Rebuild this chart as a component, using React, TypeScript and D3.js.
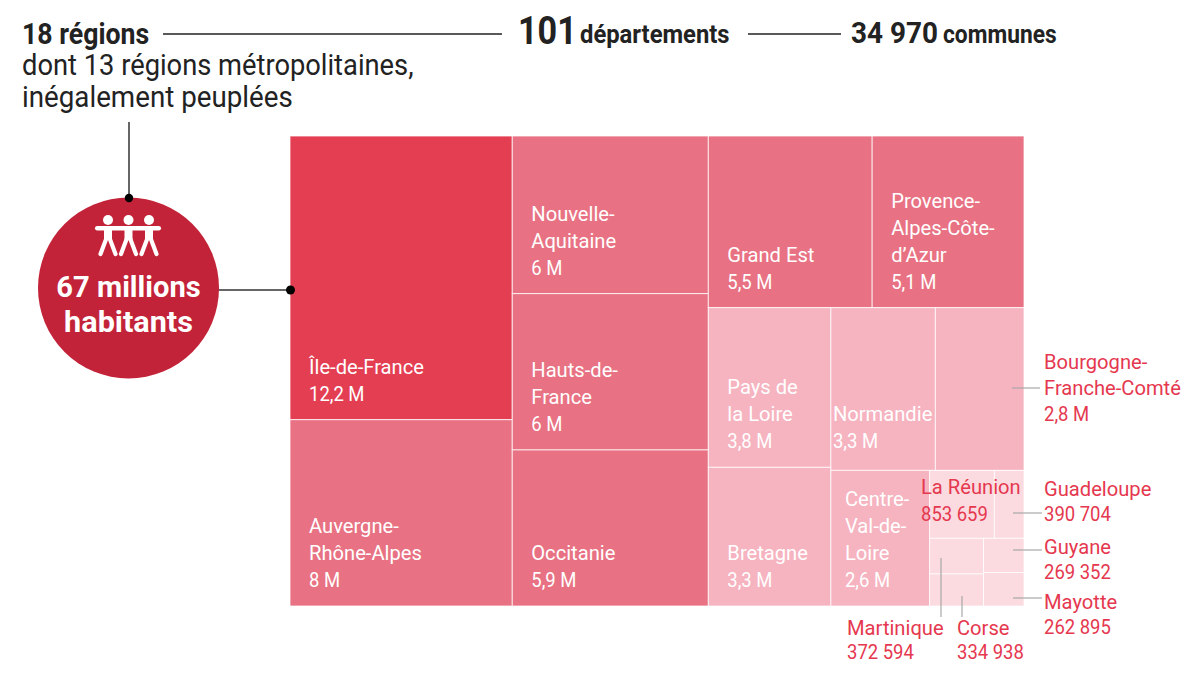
import * as d3 from "d3";

const FONT = "Roboto, sans-serif";
const INK = "#222222";
const RED = "#e5384f";

const regionNames = ["Île-de-France", "Auvergne-Rhône-Alpes", "Nouvelle-Aquitaine", "Hauts-de-France", "Occitanie", "Grand Est", "Provence-Alpes-Côte-d'Azur", "Pays de la Loire", "Bretagne", "Normandie", "Bourgogne-Franche-Comté", "Centre-Val-de-Loire", "La Réunion", "Guadeloupe", "Martinique", "Corse", "Guyane", "Mayotte"];
const regionValues = [12.24, 8.04, 6.0, 5.95, 5.94, 5.46, 5.06, 3.8, 3.3, 3.3, 2.8, 2.6, 0.853659, 0.390704, 0.372594, 0.334938, 0.269352, 0.262895];
const regionTiers = [0, 1, 1, 1, 1, 1, 1, 2, 2, 2, 2, 2, 3, 3, 3, 3, 3, 3];
const tierColors = ["#e43e53", "#e87283", "#f6b3c0", "#fbdae0"];

// white labels sitting inside the cells, last line = population
const insideLabels: [string, string[]][] = [
  ["Île-de-France", ["Île-de-France", "12,2 M"]],
  ["Auvergne-Rhône-Alpes", ["Auvergne-", "Rhône-Alpes", "8 M"]],
  ["Nouvelle-Aquitaine", ["Nouvelle-", "Aquitaine", "6 M"]],
  ["Hauts-de-France", ["Hauts-de-", "France", "6 M"]],
  ["Occitanie", ["Occitanie", "5,9 M"]],
  ["Grand Est", ["Grand Est", "5,5 M"]],
  ["Provence-Alpes-Côte-d'Azur", ["Provence-", "Alpes-Côte-", "d’Azur", "5,1 M"]],
  ["Pays de la Loire", ["Pays de", "la Loire", "3,8 M"]],
  ["Bretagne", ["Bretagne", "3,3 M"]],
  ["Normandie", ["Normandie", "3,3 M"]],
  ["Centre-Val-de-Loire", ["Centre-", "Val-de-", "Loire", "2,6 M"]],
];

// nesting of the treemap, "h" splits left to right and "v" top to bottom
type Split = { dir: "h" | "v"; kids: (Split | string)[] };
const nesting: Split = {
  dir: "h",
  kids: [
    { dir: "v", kids: ["Île-de-France", "Auvergne-Rhône-Alpes"] },
    { dir: "v", kids: ["Nouvelle-Aquitaine", "Hauts-de-France", "Occitanie"] },
    {
      dir: "v",
      kids: [
        { dir: "h", kids: ["Grand Est", "Provence-Alpes-Côte-d'Azur"] },
        {
          dir: "h",
          kids: [
            { dir: "v", kids: ["Pays de la Loire", "Bretagne"] },
            {
              dir: "v",
              kids: [
                { dir: "h", kids: ["Normandie", "Bourgogne-Franche-Comté"] },
                {
                  dir: "h",
                  kids: [
                    "Centre-Val-de-Loire",
                    {
                      dir: "v",
                      kids: [
                        { dir: "h", kids: ["La Réunion", "Guadeloupe"] },
                        {
                          dir: "h",
                          kids: [
                            { dir: "v", kids: ["Martinique", "Corse"] },
                            { dir: "v", kids: ["Guyane", "Mayotte"] },
                          ],
                        },
                      ],
                    },
                  ],
                },
              ],
            },
          ],
        },
      ],
    },
  ],
};

const valueOf = (name: string) => regionValues[regionNames.indexOf(name)];

const root = d3
  .hierarchy<Split | string>(nesting, (d) => (typeof d === "string" ? null : d.kids))
  .sum((d) => (typeof d === "string" ? valueOf(d) : 0));

d3
  .treemap<Split | string>()
  .size([734, 470])
  .tile((node, x0, y0, x1, y1) => {
    const dir = (node.data as Split).dir;
    if (dir === "h") d3.treemapDice(node, x0, y0, x1, y1);
    else d3.treemapSlice(node, x0, y0, x1, y1);
  })(root);

const cells = root.leaves() as d3.HierarchyRectangularNode<string>[];
const cellOf = (name: string) => cells.find((c) => c.data === name)!;

const outerLabels = [
  { x: 1044, y: 369, lines: ["Bourgogne-", "Franche-Comté", "2,8 M"], gap: 26 },
  { x: 921, y: 494, lines: ["La Réunion", "853 659"], gap: 27 },
  { x: 1044, y: 496, lines: ["Guadeloupe", "390 704"], gap: 25 },
  { x: 1044, y: 554, lines: ["Guyane", "269 352"], gap: 25 },
  { x: 1044, y: 609, lines: ["Mayotte", "262 895"], gap: 25 },
  { x: 847, y: 635, lines: ["Martinique", "372 594"], gap: 24 },
  { x: 957, y: 635, lines: ["Corse", "334 938"], gap: 24 },
];

const leaders = [
  [1012, 388, 1040, 388],
  [1013, 513, 1042, 513],
  [1013, 550, 1042, 550],
  [1013, 598, 1042, 598],
  [941, 558, 941, 617],
  [962, 596, 962, 617],
];

// Fira-like narrow look: Roboto squeezed horizontally
function Condensed(props: { x: number; y: number; size: number; k?: number; weight?: number; fill: string; anchor?: string; children: string }) {
  return (
    <text
      transform={`translate(${props.x},${props.y}) scale(${props.k ?? 1},1)`}
      fontSize={props.size}
      fontWeight={props.weight ?? 400}
      fill={props.fill}
      textAnchor={props.anchor ?? "start"}
      fontFamily={FONT}
    >
      {props.children}
    </text>
  );
}

const isNumberLine = (l: string) => /^\d/.test(l);
const labelSqueeze = (l: string) => (isNumberLine(l) ? 0.88 : 0.96);

function People() {
  const xs = [108, 128.5, 149];
  const line = d3.line();
  return (
    <g>
      <rect x={95} y={226} width={66} height={4.5} rx={2.2} fill="#fff" />
      {xs.map((x) => (
        <g key={x}>
          <circle cx={x} cy={220} r={5} fill="#fff" />
          <path d={line([[x, 229], [x, 240]]) ?? ""} stroke="#fff" strokeWidth={8} fill="none" />
          <path
            d={line([[x - 7.5, 254], [x - 1.5, 238], [x + 1.5, 238], [x + 7.5, 254]]) ?? ""}
            stroke="#fff"
            strokeWidth={4.2}
            strokeLinecap="round"
            fill="none"
          />
        </g>
      ))}
    </g>
  );
}

export default function App() {
  return (
    <svg width={1200} height={676} viewBox="0 0 1200 676" style={{ position: "absolute", left: 0, top: 0, background: "#fff" }}>
      <Condensed x={22} y={44} size={30} k={0.89} weight={700} fill={INK}>18 régions</Condensed>
      <Condensed x={22} y={75} size={30} k={0.91} fill={INK}>dont 13 régions métropolitaines,</Condensed>
      <Condensed x={22} y={107} size={30} k={0.925} fill={INK}>inégalement peuplées</Condensed>
      <Condensed x={518} y={44} size={38} k={0.9} weight={700} fill={INK}>101</Condensed>
      <Condensed x={580} y={43} size={26} k={0.915} weight={700} fill={INK}>départements</Condensed>
      <Condensed x={851} y={43} size={30} k={0.93} weight={700} fill={INK}>34 970</Condensed>
      <Condensed x={943} y={43} size={26} k={0.876} weight={700} fill={INK}>communes</Condensed>
      <line x1={163} x2={502} y1={34} y2={34} stroke={INK} strokeWidth={1.4} />
      <line x1={748} x2={841} y1={34} y2={34} stroke={INK} strokeWidth={1.4} />

      <g transform="translate(290,136)">
        {cells.map((c) => (
          <rect
            key={c.data}
            x={c.x0}
            y={c.y0}
            width={c.x1 - c.x0}
            height={c.y1 - c.y0}
            fill={tierColors[regionTiers[regionNames.indexOf(c.data)]]}
            stroke="#fff"
            strokeOpacity={0.75}
            strokeWidth={1}
          />
        ))}
        {insideLabels.map(([name, lines]) => {
          const c = cellOf(name);
          const pad = name === "Normandie" ? 2 : name === "Centre-Val-de-Loire" ? 14 : 19;
          const bottom = c.y1 - (name === "Normandie" ? 22 : 19);
          return lines.map((l, i) => (
            <Condensed key={name + i} x={c.x0 + pad} y={bottom - (lines.length - 1 - i) * 27} size={21} k={labelSqueeze(l)} fill="#fff">
              {l}
            </Condensed>
          ));
        })}
      </g>

      {leaders.map((l, i) => (
        <line key={i} x1={l[0]} y1={l[1]} x2={l[2]} y2={l[3]} stroke="#a8a8a8" strokeWidth={1.2} />
      ))}
      {outerLabels.map((o) =>
        o.lines.map((l, i) => (
          <Condensed key={o.lines[0] + i} x={o.x} y={o.y + i * o.gap} size={21} k={labelSqueeze(l)} fill={RED}>
            {l}
          </Condensed>
        ))
      )}

      <line x1={129} x2={129} y1={122} y2={198} stroke="#333" strokeWidth={1.5} />
      <line x1={218} x2={291} y1={290} y2={290} stroke="#333" strokeWidth={1.5} />
      <circle cx={128.5} cy={288} r={90.5} fill="#c32338" />
      <circle cx={129} cy={198} r={4.2} fill="#000" />
      <circle cx={290.5} cy={290} r={4.5} fill="#000" />
      <People />
      <Condensed x={128.5} y={297} size={30} k={0.97} weight={700} fill="#fff" anchor="middle">67 millions</Condensed>
      <Condensed x={128.5} y={332} size={30} k={1.02} weight={700} fill="#fff" anchor="middle">habitants</Condensed>
    </svg>
  );
}
